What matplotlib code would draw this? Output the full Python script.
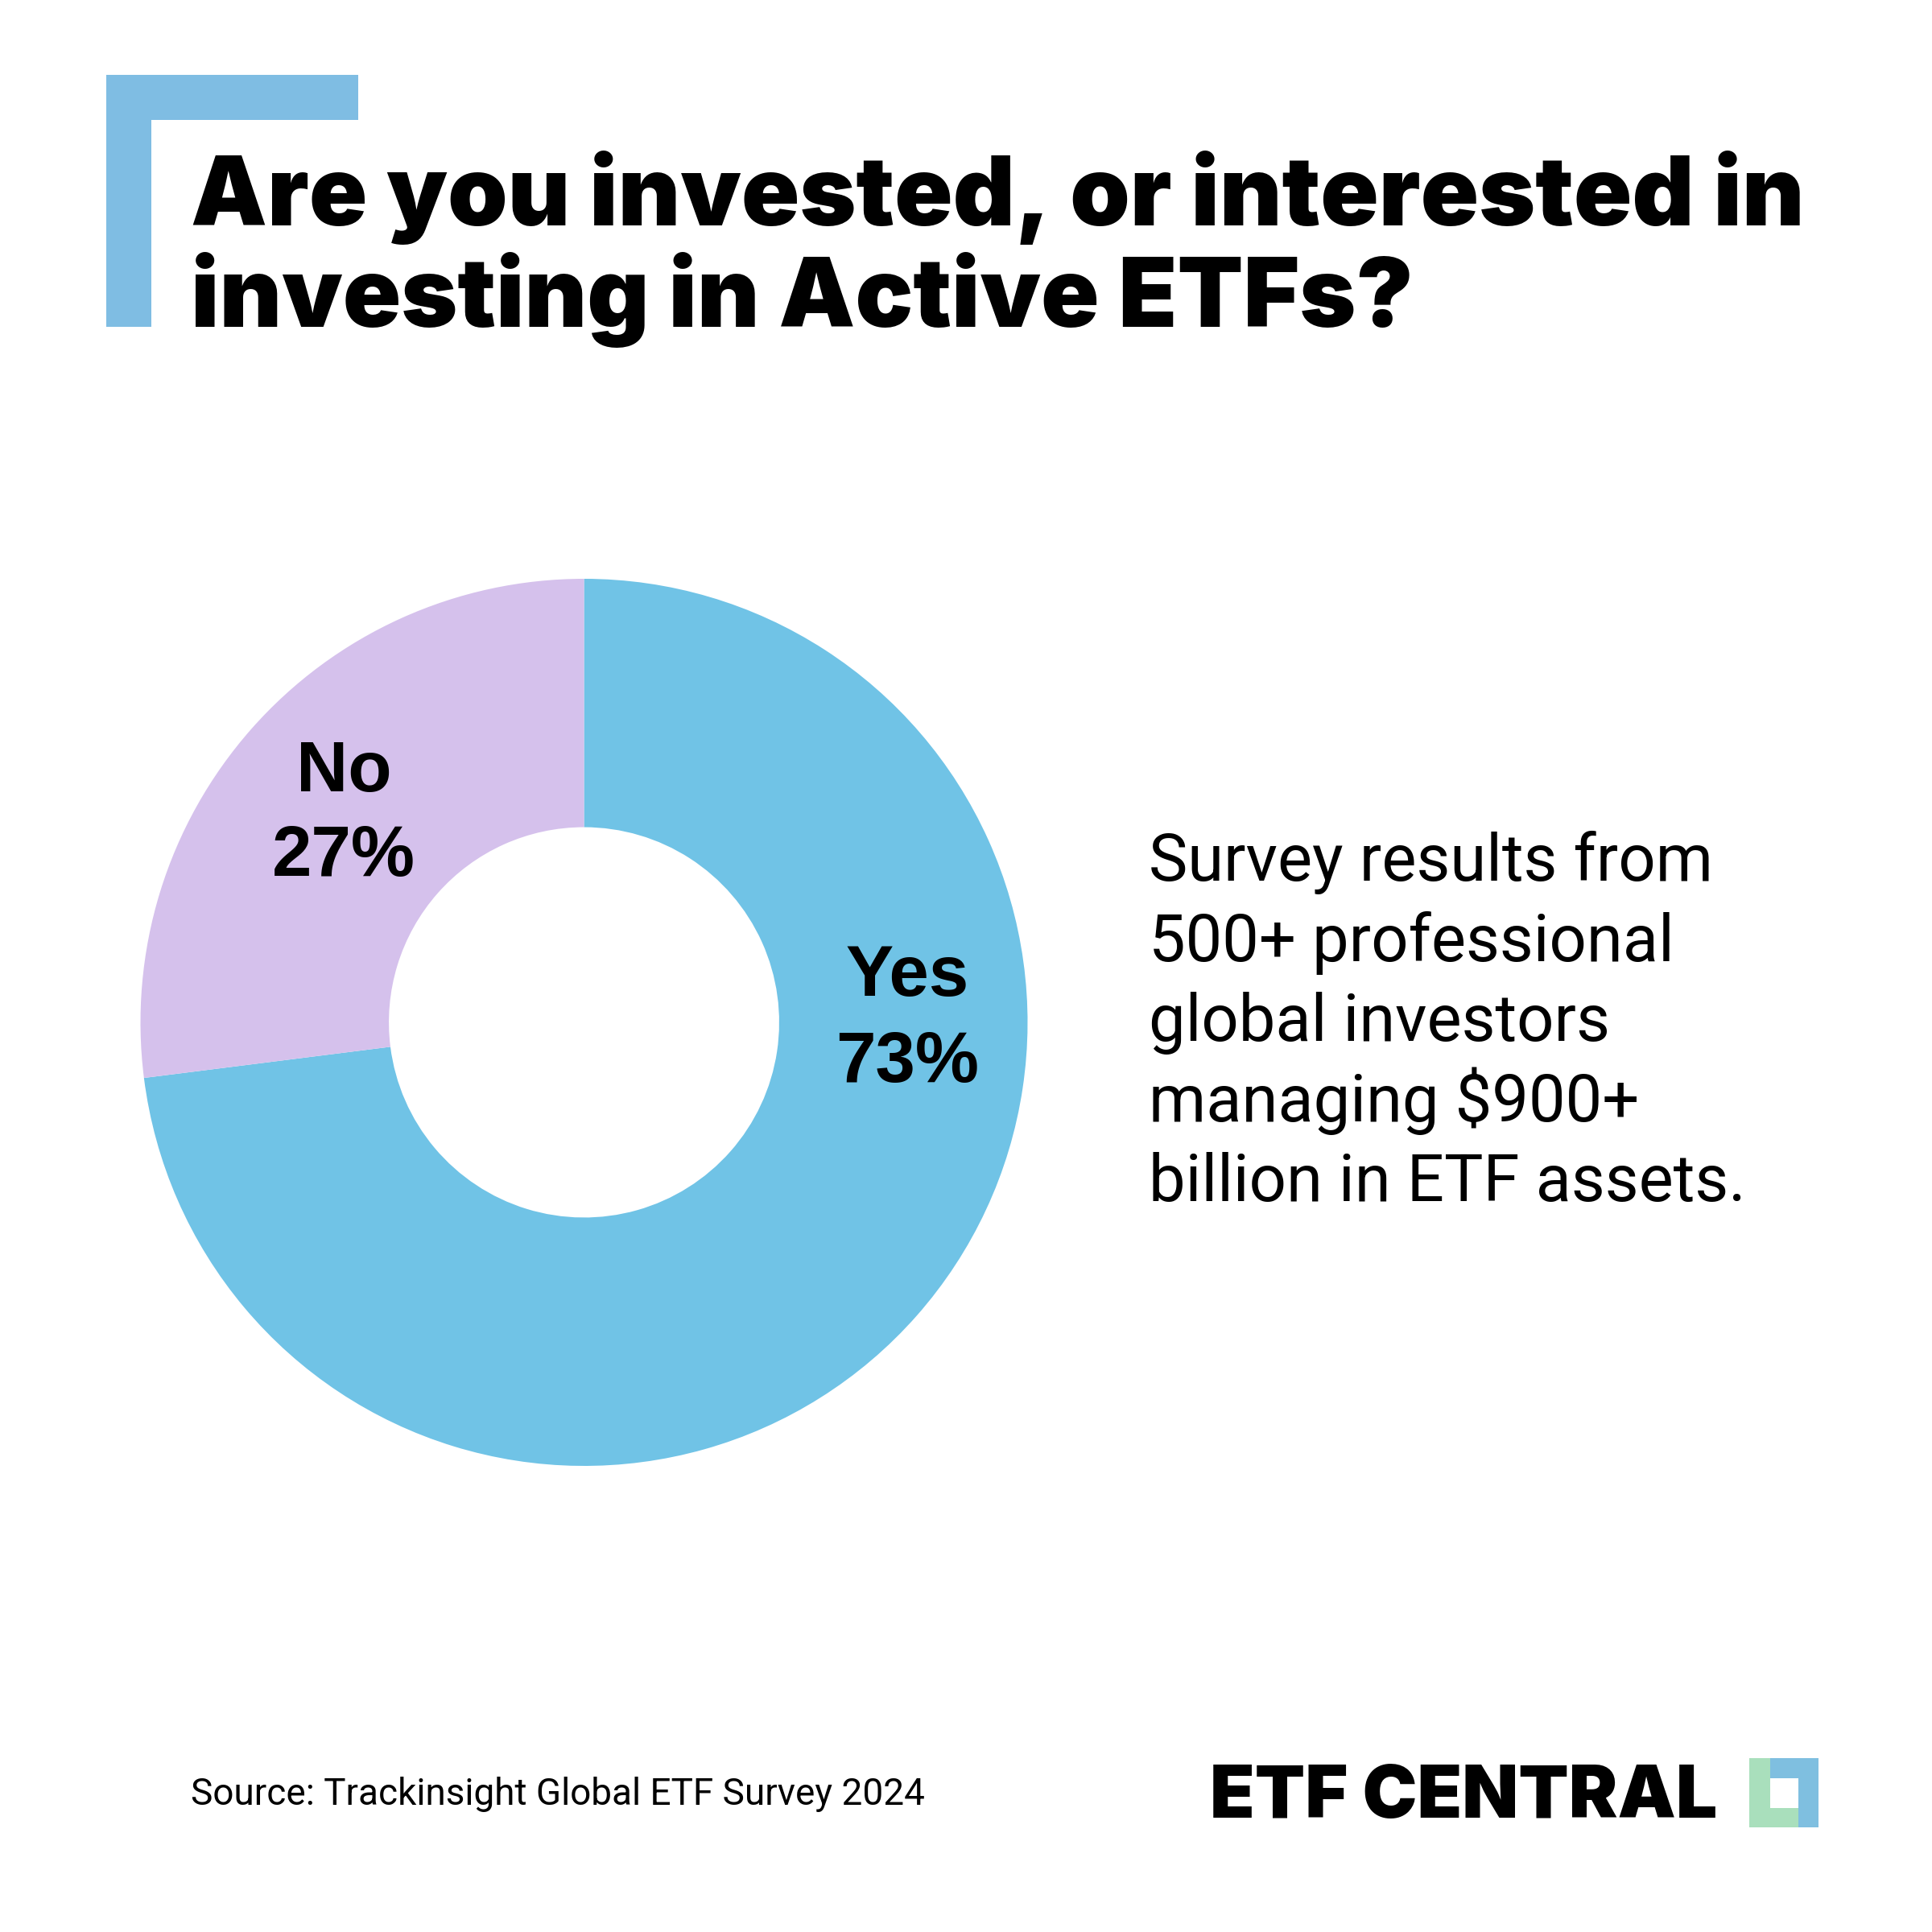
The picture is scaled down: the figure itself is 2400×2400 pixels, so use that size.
import matplotlib
matplotlib.use("Agg")
import matplotlib.pyplot as plt
from matplotlib.patches import Rectangle

# data
labels = ["Yes", "No"]
shares = [73, 27]
colors = ["#70c3e6", "#d5c1ec"]

title_lines = ["Are you invested, or interested in", "investing in Active ETFs?"]
note_lines = ["Survey results from", "500+ professional", "global investors",
              "managing $900+", "billion in ETF assets."]
source = "Source: Trackinsight Global ETF Survey 2024"
brand = "ETF CENTRAL"

W = H = 2400
fig = plt.figure(figsize=(24, 24), dpi=100)
fig.patch.set_facecolor("white")


def fx(px):
    return px / W


def fy(py):
    # pixel measured from top
    return 1 - py / H


def rect(x0, y0, x1, y1, color):
    fig.patches.append(Rectangle((fx(x0), fy(y1)), fx(x1 - x0), (y1 - y0) / H,
                                 transform=fig.transFigure, color=color, lw=0))


# corner bracket
bracket = "#7fbde3"
rect(132, 93, 445, 149, bracket)
rect(132, 93, 188, 406, bracket)

# title
heavy = ["Inter", "Open Sans", "DejaVu Sans"]
plain = ["Roboto", "Liberation Sans", "DejaVu Sans"]
for i, line in enumerate(title_lines):
    fig.text(fx(237), fy(280 + i * 126), line, fontsize=86, fontweight="black",
             family=heavy, va="baseline", ha="left")

# donut
cx, cy, r = 725.5, 1270, 551
ax = fig.add_axes([fx(cx - r), fy(cy + r), 2 * r / W, 2 * r / H])
wedges, _ = ax.pie(shares, colors=colors, startangle=90, counterclock=False,
                   wedgeprops=dict(width=0.56, linewidth=0))
ax.set_xlim(-1, 1)
ax.set_ylim(-1, 1)
ax.set_aspect("equal")
ax.axis("off")

# label anchors (centre x, baseline of first line, baseline of second line)
label_pos = {"Yes": (0.729, 0.060, -0.134), "No": (-0.542, 0.521, 0.330)}
for lab, val in zip(labels, shares):
    x, y1, y2 = label_pos[lab]
    for y, s in ((y1, lab), (y2, f"{val}%")):
        ax.text(x, y, s, ha="center", va="baseline", fontsize=64,
                fontweight="bold", family="Liberation Sans")

# side note
for i, line in enumerate(note_lines):
    fig.text(fx(1427), fy(1094 + i * 99.6), line, fontsize=58.5,
             family=plain, va="baseline", ha="left")

# footer
fig.text(fx(237), fy(2242), source, fontsize=33,
         family=plain, va="baseline", ha="left")
fig.text(fx(1503), fy(2258), brand, fontsize=65.5, fontweight="black",
         family=heavy, va="baseline", ha="left")

# logo square
lx0, ly0, s = 2173, 2184, 86
green, blue = "#a9dfbc", "#7fbfe0"
rect(lx0, ly0, lx0 + 0.30 * s, ly0 + s, green)
rect(lx0, ly0 + 0.725 * s, lx0 + 0.706 * s, ly0 + s, green)
rect(lx0 + 0.30 * s, ly0, lx0 + s, ly0 + 0.286 * s, blue)
rect(lx0 + 0.706 * s, ly0, lx0 + s, ly0 + s, blue)

fig.savefig("out.png", dpi=100, facecolor="white")
